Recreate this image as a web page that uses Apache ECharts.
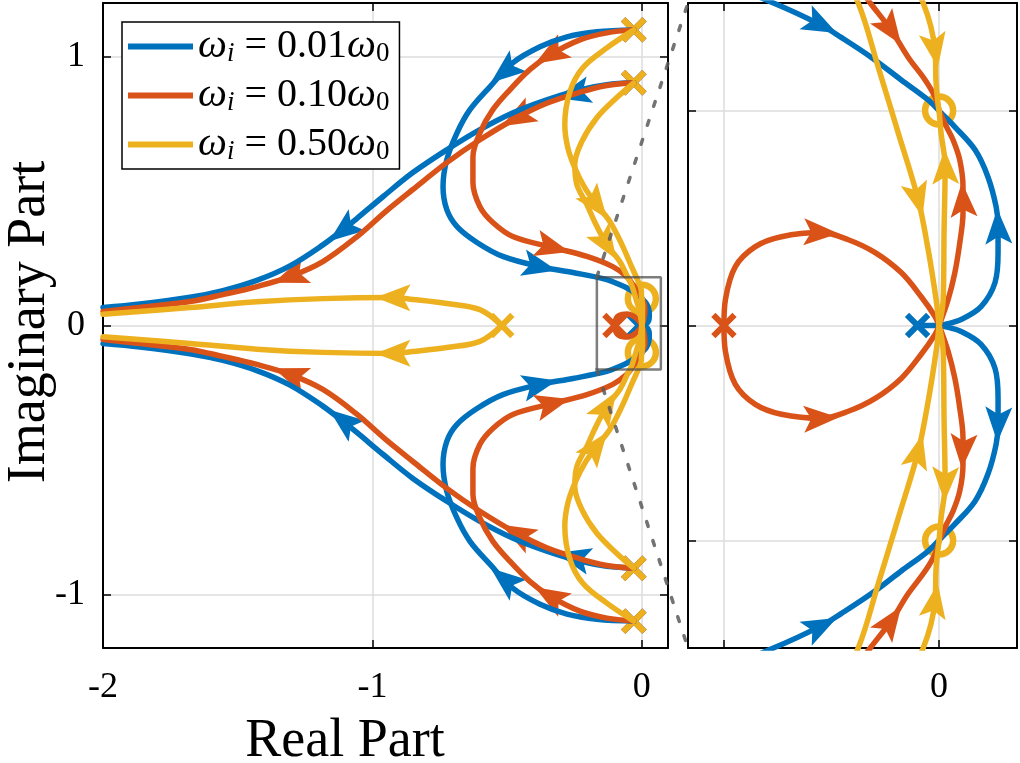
<!DOCTYPE html>
<html><head><meta charset="utf-8">
<script src="https://cdn.jsdelivr.net/npm/echarts@6/dist/echarts.min.js"></script>
<style>html,body{margin:0;padding:0;background:#fff}#c{width:1020px;height:763px}</style>
</head><body><div id="c"></div>
<script>
// ---------- tick values ----------
const xTicksMain = [-2, -1, 0];
const yTicksMain = [-1, 0, 1];
const xTicksZoom = [-0.1, 0];
const xLabelsZoom = [0];
const yTicksZoom = [-0.1, 0, 0.1];
const legendValues = ['0.01', '0.10', '0.50'];

// ---------- omega_i = 0.01 omega_0 (blue) ----------
const blueA_up = [[-0.03,1.1],[-0.167,1.093],[-0.278,1.074],[-0.378,1.037],[-0.478,0.978],[-0.564,0.888],[-0.638,0.803],[-0.686,0.717],[-0.724,0.617],[-0.738,0.517],[-0.724,0.431],[-0.686,0.368],[-0.612,0.309],[-0.516,0.257],[-0.378,0.219],[-0.256,0.197],[-0.13,0.171],[-0.077,0.15],[-0.0548,0.1397],[-0.0455,0.134],[-0.0316,0.1248],[-0.0176,0.1142],[-0.0051,0.1049],[0.0009,0.0988]];
const blueA_lo = [[-0.03,-1.1],[-0.167,-1.093],[-0.278,-1.074],[-0.378,-1.037],[-0.478,-0.978],[-0.564,-0.888],[-0.638,-0.803],[-0.686,-0.717],[-0.724,-0.617],[-0.738,-0.517],[-0.724,-0.431],[-0.686,-0.368],[-0.612,-0.309],[-0.516,-0.257],[-0.378,-0.219],[-0.256,-0.197],[-0.13,-0.171],[-0.077,-0.15],[-0.0548,-0.1397],[-0.0455,-0.134],[-0.0316,-0.1248],[-0.0176,-0.1142],[-0.0051,-0.1049],[0.0009,-0.0988]];
const blueB_up = [[-0.03,0.903],[-0.13,0.896],[-0.23,0.877],[-0.353,0.84],[-0.478,0.792],[-0.601,0.729],[-0.724,0.654],[-0.85,0.569],[-0.96,0.48],[-1.058,0.398],[-1.109,0.357],[-1.184,0.3],[-1.306,0.222],[-1.429,0.168],[-1.555,0.13],[-1.677,0.105],[-1.863,0.08],[-2,0.067]];
const blueB_lo = [[-0.03,-0.903],[-0.13,-0.896],[-0.23,-0.877],[-0.353,-0.84],[-0.478,-0.792],[-0.601,-0.729],[-0.724,-0.654],[-0.85,-0.569],[-0.96,-0.48],[-1.058,-0.398],[-1.109,-0.357],[-1.184,-0.3],[-1.306,-0.222],[-1.429,-0.168],[-1.555,-0.13],[-1.677,-0.105],[-1.863,-0.08],[-2,-0.067]];
const blueC_up = [[0,0],[0.0028,0.0005],[0.0102,0.0028],[0.0195,0.0088],[0.026,0.02],[0.0274,0.0339],[0.0274,0.046],[0.0265,0.0552],[0.0227,0.0691],[0.0167,0.0817],[0.0074,0.0923],[0.0009,0.0988]];
const blueC_lo = [[0,0],[0.0028,-0.0005],[0.0102,-0.0028],[0.0195,-0.0088],[0.026,-0.02],[0.0274,-0.0339],[0.0274,-0.046],[0.0265,-0.0552],[0.0227,-0.0691],[0.0167,-0.0817],[0.0074,-0.0923],[0.0009,-0.0988]];
const blueReal = [[-0.01,0],[0,0]];
const polesBlue = [[-0.01,0],[-0.03,1.1],[-0.03,0.903],[-0.03,-0.903],[-0.03,-1.1]];

// ---------- omega_i = 0.10 omega_0 (red) ----------
const redA_up = [[-0.03,1.1],[-0.13,1.089],[-0.23,1.063],[-0.341,1.007],[-0.416,0.952],[-0.49,0.877],[-0.553,0.803],[-0.601,0.717],[-0.627,0.628],[-0.627,0.532],[-0.601,0.442],[-0.553,0.383],[-0.479,0.331],[-0.33,0.29],[-0.204,0.257],[-0.108,0.219],[-0.056,0.182],[-0.032,0.15],[-0.0223,0.1374],[-0.0144,0.1248],[-0.0065,0.1142],[-0.0019,0.1063],[0,0.1]];
const redA_lo = [[-0.03,-1.1],[-0.13,-1.089],[-0.23,-1.063],[-0.341,-1.007],[-0.416,-0.952],[-0.49,-0.877],[-0.553,-0.803],[-0.601,-0.717],[-0.627,-0.628],[-0.627,-0.532],[-0.601,-0.442],[-0.553,-0.383],[-0.479,-0.331],[-0.33,-0.29],[-0.204,-0.257],[-0.108,-0.219],[-0.056,-0.182],[-0.032,-0.15],[-0.0223,-0.1374],[-0.0144,-0.1248],[-0.0065,-0.1142],[-0.0019,-0.1063],[0,-0.1]];
const redB_up = [[-0.03,0.903],[-0.13,0.893],[-0.23,0.868],[-0.353,0.827],[-0.464,0.773],[-0.601,0.691],[-0.724,0.606],[-0.85,0.506],[-0.95,0.425],[-1.058,0.33],[-1.184,0.238],[-1.306,0.182],[-1.429,0.145],[-1.555,0.115],[-1.677,0.089],[-1.863,0.067],[-2,0.052]];
const redB_lo = [[-0.03,-0.903],[-0.13,-0.893],[-0.23,-0.868],[-0.353,-0.827],[-0.464,-0.773],[-0.601,-0.691],[-0.724,-0.606],[-0.85,-0.506],[-0.95,-0.425],[-1.058,-0.33],[-1.184,-0.238],[-1.306,-0.182],[-1.429,-0.145],[-1.555,-0.115],[-1.677,-0.089],[-1.863,-0.067],[-2,-0.052]];
const redC_up = [[0,0],[0.0042,0.0121],[0.0073,0.0245],[0.0096,0.0384],[0.0111,0.0523],[0.0111,0.0646],[0.0096,0.077],[0.0065,0.0863],[0.0034,0.0925],[0,0.1]];
const redC_lo = [[0,0],[0.0042,-0.0121],[0.0073,-0.0245],[0.0096,-0.0384],[0.0111,-0.0523],[0.0111,-0.0646],[0.0096,-0.077],[0.0065,-0.0863],[0.0034,-0.0925],[0,-0.1]];
const redLoop_up = [[-0.1,0],[-0.0993,0.0121],[-0.0947,0.0274],[-0.0854,0.0367],[-0.0733,0.0413],[-0.0548,0.0432],[-0.0422,0.0399],[-0.0297,0.0339],[-0.0176,0.0246],[-0.0084,0.0135],[-0.0019,0.0042],[0,0]];
const redLoop_lo = [[-0.1,0],[-0.0993,-0.0121],[-0.0947,-0.0274],[-0.0854,-0.0367],[-0.0733,-0.0413],[-0.0548,-0.0432],[-0.0422,-0.0399],[-0.0297,-0.0339],[-0.0176,-0.0246],[-0.0084,-0.0135],[-0.0019,-0.0042],[0,0]];
const polesRed = [[-0.1,0],[-0.03,1.1],[-0.03,0.903],[-0.03,-0.903],[-0.03,-1.1]];

// ---------- omega_i = 0.50 omega_0 (yellow) ----------
const yelA_up = [[-0.03,1.1],[-0.13,1.033],[-0.219,0.959],[-0.267,0.87],[-0.286,0.747],[-0.275,0.662],[-0.249,0.587],[-0.212,0.513],[-0.168,0.45],[-0.119,0.387],[-0.074,0.301],[-0.037,0.216],[-0.0074,0.15],[-0.0019,0.128],[-0.0014,0.1128],[0,0.1]];
const yelA_lo = [[-0.03,-1.1],[-0.13,-1.033],[-0.219,-0.959],[-0.267,-0.87],[-0.286,-0.747],[-0.275,-0.662],[-0.249,-0.587],[-0.212,-0.513],[-0.168,-0.45],[-0.119,-0.387],[-0.074,-0.301],[-0.037,-0.216],[-0.0074,-0.15],[-0.0019,-0.128],[-0.0014,-0.1128],[0,-0.1]];
const yelB_up = [[-0.03,0.903],[-0.093,0.848],[-0.167,0.773],[-0.223,0.684],[-0.249,0.599],[-0.241,0.524],[-0.204,0.45],[-0.174,0.383],[-0.13,0.301],[-0.082,0.238],[-0.052,0.178],[-0.0376,0.15],[-0.0283,0.1202],[-0.019,0.0896],[-0.0097,0.0585],[-0.0051,0.0353],[-0.0014,0.0121],[0,0]];
const yelB_lo = [[-0.03,-0.903],[-0.093,-0.848],[-0.167,-0.773],[-0.223,-0.684],[-0.249,-0.599],[-0.241,-0.524],[-0.204,-0.45],[-0.174,-0.383],[-0.13,-0.301],[-0.082,-0.238],[-0.052,-0.178],[-0.0376,-0.15],[-0.0283,-0.1202],[-0.019,-0.0896],[-0.0097,-0.0585],[-0.0051,-0.0353],[-0.0014,-0.0121],[0,0]];
const yelC_up = [[0,0],[0.0019,0.0121],[0.0023,0.0432],[0.0028,0.0738],[0.0009,0.0896],[0,0.1]];
const yelC_lo = [[0,0],[0.0019,-0.0121],[0.0023,-0.0432],[0.0028,-0.0738],[0.0009,-0.0896],[0,-0.1]];
const yelR_up = [[-0.52,0],[-0.601,0.059],[-0.724,0.082],[-0.85,0.097],[-0.924,0.104],[-1.184,0.1],[-1.429,0.088],[-1.677,0.067],[-2,0.042]];
const yelR_lo = [[-0.52,0],[-0.601,-0.059],[-0.724,-0.082],[-0.85,-0.097],[-0.924,-0.104],[-1.184,-0.1],[-1.429,-0.088],[-1.677,-0.067],[-2,-0.042]];
const polesYel = [[-0.52,0],[-0.03,1.1],[-0.03,0.903],[-0.03,-0.903],[-0.03,-1.1]];
const zerosAll = [[0,0.1],[0,-0.1]];

// ---------- arrow positions (curve, x, y) ----------
const blueArrowsMain = [[blueA_up,-0.51,0.944],[blueA_up,-0.378,0.219],[blueB_up,-0.256,0.862],[blueB_up,-1.109,0.353],
  [blueA_lo,-0.51,-0.944],[blueA_lo,-0.378,-0.219],[blueB_lo,-0.256,-0.862],[blueB_lo,-1.109,-0.353]];
const redArrowsMain = [[redA_up,-0.341,1.007],[redA_up,-0.33,0.29],[redB_up,-0.464,0.773],[redB_up,-1.306,0.182],
  [redA_lo,-0.341,-1.007],[redA_lo,-0.33,-0.29],[redB_lo,-0.464,-0.773],[redB_lo,-1.306,-0.182]];
const yelArrowsMain = [[yelA_up,-0.168,0.45],[yelB_up,-0.13,0.301],[yelR_up,-0.924,0.104],
  [yelA_lo,-0.168,-0.45],[yelB_lo,-0.13,-0.301],[yelR_lo,-0.924,-0.104]];
const blueArrowsZoom = [[blueA_up,-0.0548,0.1397],[blueC_up,0.0274,0.046],[blueA_lo,-0.0548,-0.1397],[blueC_lo,0.0274,-0.046]];
const redArrowsZoom = [[redLoop_up,-0.0548,0.0432],[redC_up,0.0111,0.0585],[redA_up,-0.0223,0.1374],
  [redLoop_lo,-0.0548,-0.0432],[redC_lo,0.0111,-0.0585],[redA_lo,-0.0223,-0.1374]];
const yelArrowsZoom = [[yelB_up,-0.0097,0.0585],[yelA_up,-0.0019,0.128],[yelC_up,0.0028,0.0738],
  [yelB_lo,-0.0097,-0.0585],[yelA_lo,-0.0019,-0.128],[yelC_lo,0.0028,-0.0738]];

// ---------- zoom box & axis ranges ----------
const zoomBox = [[-0.167,-0.164],[0.0705,-0.164],[0.0705,0.18],[-0.167,0.18],[-0.167,-0.164]];
const mainRangeX = [-2, 0.097], mainRangeY = [-1.2, 1.2];
const zoomRangeX = [-0.1167, 0.0362], zoomRangeY = [-0.15, 0.15];

// ---------- styling ----------
const C_BLUE = '#0072BD', C_RED = '#D95319', C_YEL = '#EDB120';
const FONT = 'Liberation Serif';
const ARROW = 'path://M5,0L10,14L5,11L0,14Z';
const CROSS = 'path://M4,0H6V4H10V6H6V10H4V6H0V4H4Z';
const LW = 5.5;

const chart = echarts.init(document.getElementById('c'));

const groups = [
  {name:'L0', color:C_BLUE, curves:[blueA_up,blueA_lo,blueB_up,blueB_lo,blueC_up,blueC_lo,blueReal], am:blueArrowsMain, az:blueArrowsZoom, poles:polesBlue},
  {name:'L1', color:C_RED, curves:[redA_up,redA_lo,redB_up,redB_lo,redC_up,redC_lo,redLoop_up,redLoop_lo], am:redArrowsMain, az:redArrowsZoom, poles:polesRed},
  {name:'L2', color:C_YEL, curves:[yelA_up,yelA_lo,yelB_up,yelB_lo,yelC_up,yelC_lo,yelR_up,yelR_lo], am:yelArrowsMain, az:yelArrowsZoom, poles:polesYel}
];

function axisBase(extra) {
  return Object.assign({
    type:'value', axisLine:{show:true, onZero:false, lineStyle:{color:'#000', width:2}},
    splitLine:{show:false}, axisLabel:{show:false}
  }, extra);
}
function ticks(vals) { return {show:true, inside:true, length:8, customValues:vals, lineStyle:{color:'#000', width:1.5}}; }
const split = {show:true, lineStyle:{color:'#dcdcdc', width:1.5}};
function labels(vals, margin) {
  return {show:true, customValues:vals, margin, fontFamily:FONT, fontSize:36, color:'#000', formatter: v => String(v)};
}

function arrowData(list, ax, ready) {
  return list.map(([curve, x, y]) => {
    let rot = 0;
    if (ready) {
      const f = {xAxisIndex:ax, yAxisIndex:ax};
      const pts = curve.map(p => chart.convertToPixel(f, p));
      const pp = chart.convertToPixel(f, [x, y]);
      let k = 0, best = Infinity;
      pts.forEach((q, i) => { const d = (q[0]-pp[0])**2 + (q[1]-pp[1])**2; if (d < best) { best = d; k = i; } });
      const a = pts[Math.max(k-1, 0)], b = pts[Math.min(k+1, pts.length-1)];
      rot = Math.atan2(-(b[1]-a[1]), b[0]-a[0]) * 180 / Math.PI - 90;
    }
    return {value:[x, y], symbolRotate: rot};
  });
}

function build(ready) {
  const series = [];
  groups.forEach(g => {
    g.curves.forEach((c, ci) => {
      [0, 2].forEach(ax => {
        series.push({type:'line', name: (ci === 0 && ax === 0) ? g.name : undefined, xAxisIndex:ax, yAxisIndex:ax, data:c,
          symbol:'none', smooth:0.35, clip:true, silent:true, lineStyle:{color:g.color, width:LW, cap:'round', join:'round', opacity:1}, itemStyle:{color:g.color}});
      });
    });
    [[g.am, 0], [g.az, 2]].forEach(([list, ax]) => {
      series.push({type:'scatter', xAxisIndex:ax, yAxisIndex:ax, data:arrowData(list, ax, ready), symbol:ARROW, symbolSize:[27, 35],
        itemStyle:{color:g.color, opacity:1}, silent:true, clip:true});
    });
  });
  series.push({type:'line', xAxisIndex:0, yAxisIndex:0, data:zoomBox, symbol:'none', silent:true,
    lineStyle:{color:'rgba(70,70,70,0.7)', width:2.5}});
  groups.forEach(g => {
    [0, 2].forEach(ax => {
      series.push({type:'scatter', xAxisIndex:ax, yAxisIndex:ax, data:g.poles, symbol:CROSS, symbolSize:30, symbolRotate:45,
        itemStyle:{color:g.color, opacity:1}, silent:true, clip:true});
    });
  });
  [0, 2].forEach(ax => {
    series.push({type:'scatter', xAxisIndex:ax, yAxisIndex:ax, data:zerosAll, symbol:'circle', symbolSize:28,
      itemStyle:{color:'#fff', borderColor:C_YEL, borderWidth:6.5, opacity:1}, silent:true, clip:true});
  });

  const graphic = [
    {type:'text', x:30, y:322, rotation:Math.PI/2, z:100, style:{text:'Imaginary Part', fontFamily:FONT, fontSize:54, fill:'#000', align:'center', verticalAlign:'middle'}},
    {type:'text', x:345, y:742, z:100, style:{text:'Real Part', fontFamily:FONT, fontSize:54, fill:'#000', align:'center', verticalAlign:'middle'}}
  ];
  if (ready) {
    const f0 = {xAxisIndex:0, yAxisIndex:0}, f2 = {xAxisIndex:2, yAxisIndex:2};
    const boxTL = chart.convertToPixel(f0, [zoomBox[3][0], zoomBox[3][1]]);
    const boxBL = chart.convertToPixel(f0, [zoomBox[0][0], zoomBox[0][1]]);
    const insTL = chart.convertToPixel(f2, [zoomRangeX[0], zoomRangeY[1]]);
    const insBL = chart.convertToPixel(f2, [zoomRangeX[0], zoomRangeY[0]]);
    [[boxTL, insTL], [boxBL, insBL]].forEach(([p, q]) => {
      graphic.push({type:'line', z:100, shape:{x1:p[0], y1:p[1], x2:q[0], y2:q[1]},
        style:{stroke:'rgba(90,90,90,0.85)', lineWidth:3.5, lineDash:[5, 15], lineCap:'round'}});
    });
  }

  return {
    animation:false,
    backgroundColor:'#fff',
    grid:[{left:103, top:3, width:565, height:645}, {left:688, top:3, width:329, height:645}],
    xAxis:[
      axisBase({gridIndex:0, position:'bottom', min:mainRangeX[0], max:mainRangeX[1], axisTick:ticks(xTicksMain), axisLabel:labels(xTicksMain, 22), splitLine:split}),
      axisBase({gridIndex:0, position:'top', min:mainRangeX[0], max:mainRangeX[1], axisTick:ticks(xTicksMain)}),
      axisBase({gridIndex:1, position:'bottom', min:zoomRangeX[0], max:zoomRangeX[1], axisTick:ticks(xTicksZoom), axisLabel:labels(xLabelsZoom, 22), splitLine:split}),
      axisBase({gridIndex:1, position:'top', min:zoomRangeX[0], max:zoomRangeX[1], axisTick:ticks(xTicksZoom)})
    ],
    yAxis:[
      axisBase({gridIndex:0, position:'left', min:mainRangeY[0], max:mainRangeY[1], axisTick:ticks(yTicksMain), axisLabel:labels(yTicksMain, 18), splitLine:split}),
      axisBase({gridIndex:0, position:'right', min:mainRangeY[0], max:mainRangeY[1], axisTick:ticks(yTicksMain)}),
      axisBase({gridIndex:1, position:'left', min:zoomRangeY[0], max:zoomRangeY[1], axisTick:ticks(yTicksZoom), splitLine:split}),
      axisBase({gridIndex:1, position:'right', min:zoomRangeY[0], max:zoomRangeY[1], axisTick:ticks(yTicksZoom)})
    ],
    legend:{
      left:122, top:22, orient:'vertical', selectedMode:false,
      padding:[4, 10, 4, 6], itemGap:8, itemWidth:65, itemHeight:6,
      backgroundColor:'#fff', borderColor:'#000', borderWidth:1.5, borderRadius:0,
      data: groups.map(g => ({name:g.name, icon:'rect', itemStyle:{color:g.color}})),
      formatter: n => '{w|ω}{si|i}{t| = ' + legendValues[groups.findIndex(g => g.name === n)] + '}{w|ω}{s0|0}',
      textStyle:{color:'#000', rich:{
        w:{fontFamily:FONT, fontStyle:'italic', fontSize:41, lineHeight:41, color:'#000'},
        si:{fontFamily:FONT, fontStyle:'italic', fontSize:27, lineHeight:18, verticalAlign:'bottom', color:'#000'},
        t:{fontFamily:FONT, fontSize:40, lineHeight:41, color:'#000'},
        s0:{fontFamily:FONT, fontSize:27, lineHeight:18, verticalAlign:'bottom', color:'#000'}
      }}
    },
    graphic,
    series
  };
}

chart.setOption(build(false));
chart.setOption(build(true), true);
</script>
</body></html>
